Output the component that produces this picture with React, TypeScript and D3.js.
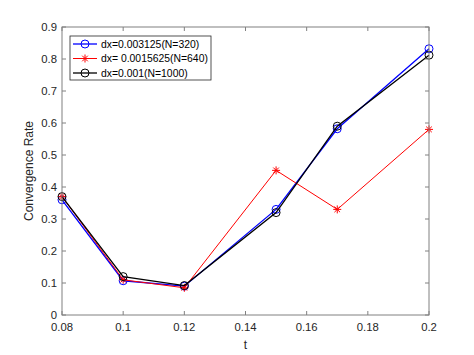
import React from "react";
import * as d3 from "d3";

const tValues = [0.08, 0.1, 0.12, 0.15, 0.17, 0.2];
const blueValues = [0.36, 0.107, 0.09, 0.33, 0.582, 0.832];
const redValues = [0.37, 0.11, 0.085, 0.452, 0.33, 0.58];
const blackValues = [0.37, 0.12, 0.092, 0.32, 0.59, 0.812];
const xTicks = [0.08, 0.1, 0.12, 0.14, 0.16, 0.18, 0.2];
const yTicks = [0, 0.1, 0.2, 0.3, 0.4, 0.5, 0.6, 0.7, 0.8, 0.9];
const legendLabels = ["dx=0.003125(N=320)", "dx= 0.0015625(N=640)", "dx=0.001(N=1000)"];

const W = 474, H = 355;
const L = 62, R = 429, T = 27, B = 315;

export default function App() {
  const x = d3.scaleLinear().domain([0.08, 0.2]).range([L, R]);
  const y = d3.scaleLinear().domain([0, 0.9]).range([B, T]);
  const line = d3.line<number>().x((_, i) => x(tValues[i])).y((d) => y(d));
  const axisColor = "#808080";
  const font = "Arial, 'Liberation Sans', sans-serif";
  const series = [
    { vals: blueValues, color: "#0000ff", marker: "o", w: 1.3 },
    { vals: redValues, color: "#ff0000", marker: "*", w: 1 },
    { vals: blackValues, color: "#000000", marker: "o", w: 1.3 },
  ];
  const drawMarker = (m: string, cx: number, cy: number, c: string, k: string) => {
    if (m === "o") return <circle key={k} cx={cx} cy={cy} r={4} fill="none" stroke={c} strokeWidth={1} />;
    const s = 4;
    return (
      <g key={k} stroke={c} strokeWidth={1}>
        <line x1={cx - s} y1={cy} x2={cx + s} y2={cy} />
        <line x1={cx} y1={cy - s} x2={cx} y2={cy + s} />
        <line x1={cx - s * 0.7} y1={cy - s * 0.7} x2={cx + s * 0.7} y2={cy + s * 0.7} />
        <line x1={cx - s * 0.7} y1={cy + s * 0.7} x2={cx + s * 0.7} y2={cy - s * 0.7} />
      </g>
    );
  };
  return (
    <svg width={W} height={H} style={{ position: "absolute", left: 0, top: 0, background: "#fff" }} fontFamily={font}>
      <rect x={0} y={0} width={W} height={H} fill="#fff" />
      {series.map((s, si) => (
        <g key={si}>
          <path d={line(s.vals) || ""} fill="none" stroke={s.color} strokeWidth={s.w} />
          {s.vals.map((v, i) => drawMarker(s.marker, x(tValues[i]), y(v), s.color, `${si}-${i}`))}
        </g>
      ))}
      <rect x={L} y={T} width={R - L} height={B - T} fill="none" stroke={axisColor} strokeWidth={1} />
      {xTicks.map((t) => (
        <g key={t}>
          <line x1={x(t)} x2={x(t)} y1={B} y2={B - 4} stroke={axisColor} />
          <line x1={x(t)} x2={x(t)} y1={T} y2={T + 4} stroke={axisColor} />
          <text x={x(t)} y={B + 16} fontSize={11.3} textAnchor="middle" fill="#262626">{String(t)}</text>
        </g>
      ))}
      {yTicks.map((t) => (
        <g key={t}>
          <line x1={L} x2={L + 4} y1={y(t)} y2={y(t)} stroke={axisColor} />
          <line x1={R} x2={R - 4} y1={y(t)} y2={y(t)} stroke={axisColor} />
          <text x={L - 5} y={y(t) + 4} fontSize={11.3} textAnchor="end" fill="#262626">{String(t)}</text>
        </g>
      ))}
      <text x={(L + R) / 2} y={349} fontSize={12} textAnchor="middle" fill="#262626">t</text>
      <text transform={`translate(33,${(T + B) / 2}) rotate(-90)`} fontSize={12} textAnchor="middle" fill="#262626">Convergence Rate</text>
      <g>
        <rect x={70} y={36} width={141} height={44} fill="#fff" stroke="#262626" strokeWidth={0.8} />
        {legendLabels.map((lab, i) => {
          const ly = 44 + i * 14.5;
          const s = series[i];
          return (
            <g key={lab}>
              <line x1={73} x2={97} y1={ly} y2={ly} stroke={s.color} strokeWidth={s.w} />
              {drawMarker(s.marker, 85, ly, s.color, "lm" + i)}
              <text x={101} y={ly + 3.7} fontSize={10.4} fill="#000">{lab}</text>
            </g>
          );
        })}
      </g>
    </svg>
  );
}
